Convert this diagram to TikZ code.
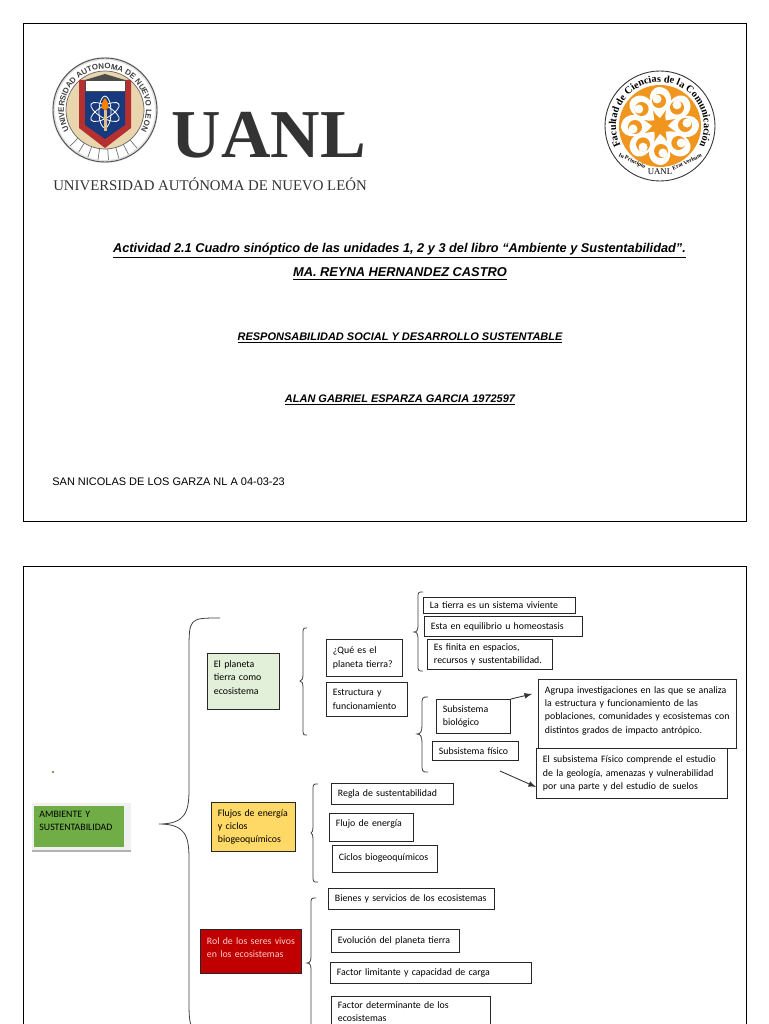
\documentclass[tikz,border=0pt]{standalone}
\usepackage{fontspec}
\setmainfont{Carlito}
\newfontfamily\arialf{Liberation Sans}
\newfontfamily\serif{Liberation Serif}
\usetikzlibrary{decorations.text}
\definecolor{uanlgray}{HTML}{333333}
\definecolor{sealred}{HTML}{B5302F}
\definecolor{sealblue}{HTML}{173A7E}
\definecolor{sealtan}{HTML}{E9D6AE}
\definecolor{factorange}{HTML}{F0961E}
\definecolor{lightgreen}{HTML}{E2EFD9}
\definecolor{midgreen}{HTML}{70AD47}
\definecolor{softyellow}{HTML}{FFD966}
\definecolor{darkred}{HTML}{C00000}
\newcommand{\brc}[7]{\draw[brc] (#3,-#4) .. controls (#1,-#4) .. (#1,-#4-#7) -- (#1,-#5+#7) .. controls (#1,-#5+#7/3) and (#1-#7/8,-#5) .. (#2,-#5) .. controls (#1-#7/8,-#5) and (#1,-#5-#7/3) .. (#1,-#5-#7) -- (#1,-#6+#7) .. controls (#1,-#6) .. (#3,-#6);}
\begin{document}
\begin{tikzpicture}[x=0.02cm,y=0.02cm]
  \tikzset{
    frm/.style={draw=black,line width=0.55pt},
    bx/.style={draw=black!85,line width=0.5pt,anchor=north west,align=left,inner ysep=1pt,font=\fontsize{5.6}{7.6}\selectfont},
    sz/.style 2 args={text width=(#1-13)*0.02cm,inner xsep=6.5*0.02cm,minimum height=#2*0.02cm},
    ttl/.style={font=\arialf\bfseries\itshape\fontsize{#1}{#1}\selectfont},
    brc/.style={draw=black!75,line width=0.45pt},
    arr/.style={draw=black!80,line width=0.5pt,-latex}
  }
  \useasboundingbox (0,-1024) rectangle (768,0);
  \clip (0,-1024) rectangle (768,0);
  \fill[white] (0,-1024) rectangle (768,0);
  \draw[frm] (23,-23) rectangle (746,-521);
  \draw[frm] (23,-566) rectangle (746,-1040);

  % escudo UANL
  \fill[gray!25] (105,-110) circle (53);
  \draw[black!70,line width=0.5pt] (105,-110) circle (52);
  \fill[white] (105,-110) circle (50);
  \fill[sealtan] (105,-110) circle (39);
  \draw[black!60,line width=0.4pt] (105,-110) circle (39);
  \foreach \a in {226,238,...,316} \draw[black!55,line width=0.4pt] (105,-110) ++(\a:39) -- ++(\a:11);
  \path[decorate,decoration={text along path,text align=center,
    text={|\arialf\bfseries\fontsize{4.5}{4.5}\selectfont\color{black!75}|UNIVERSIDAD AUTONOMA DE NUEVO LEON}}]
    (105,-110) ++(250:41) arc[start angle=250,end angle=-70,radius=41];
  \fill[sealred] (79,-80) -- (131,-80) -- (131,-128) -- (105,-148) -- (79,-128) -- cycle;
  \fill[sealblue] (85,-91) -- (125,-91) -- (125,-125) -- (105,-139) -- (85,-125) -- cycle;
  \fill[white] (85,-80) rectangle (125,-91);
  \draw[black!70,line width=0.4pt] (85,-80) rectangle (125,-91);
  \fill[black!70] (85,-80) -- (105,-74) -- (125,-80) -- cycle;
  \foreach \a in {30,90,150} \draw[white,line width=0.45pt,rotate around={\a:(105,-112)}] (105,-112) ellipse (16 and 6);
  \fill[sealtan!70!brown] (103.5,-110) rectangle (106.5,-131);
  \fill[orange] (105,-98) .. controls (110,-104) and (109,-110) .. (105,-110) .. controls (101,-110) and (100,-104) .. (105,-98);

  \node[font=\serif\bfseries\fontsize{39}{39}\selectfont,text=uanlgray,inner sep=0pt] (uanl) at (269,-135.5) {UANL};
  \node[font=\serif\fontsize{8.43}{8.43}\selectfont,text=uanlgray,inner sep=0pt] (univ) at (210,-184.5) {UNIVERSIDAD AUTÓNOMA DE NUEVO LEÓN};

  % escudo facultad
  \draw[black!80,line width=0.5pt] (660,-126) circle (55);
  \fill[factorange] (660,-126) circle (41);
  \foreach \a in {0,45,...,315} {
    \fill[white,shift={(660,-126)},rotate=\a] (8,0) .. controls (16,12) and (37,15) .. (39,1) .. controls (39,-10) and (26,-14) .. (20,-9) -- cycle;
    \fill[factorange,shift={(660,-126)},rotate=\a] (25,1) circle (7);
    \fill[white,shift={(660,-126)},rotate=\a] (27,3) circle (4.5);
  }
  \path[decorate,decoration={text along path,text align=center,
    text={|\serif\bfseries\fontsize{5.8}{5.8}\selectfont|Facultad de Ciencias de la Comunicación}}]
    (660,-126) ++(225:44) arc[start angle=225,end angle=-45,radius=44];
  \node[font=\serif\bfseries\fontsize{3.2}{3.2}\selectfont,inner sep=0pt,rotate=-25] (inpr) at (632,-161) {In Principio};
  \node[font=\serif\bfseries\fontsize{3.2}{3.2}\selectfont,inner sep=0pt,rotate=25] (erat) at (687,-162) {Erat Verbum};
  \node[font=\serif\fontsize{5}{5}\selectfont,inner sep=0pt] (fuanl) at (660,-172) {UANL};

  % portada
  \node[ttl=7.26,inner sep=0pt] (act) at (399.5,-251) {\underline{Actividad 2.1 Cuadro sinóptico de las unidades 1, 2 y 3 del libro “Ambiente y Sustentabilidad”.}};
  \node[ttl=7.3,inner sep=0pt] (ma) at (400,-274) {\underline{MA. REYNA HERNANDEZ CASTRO}};
  \node[ttl=6.26,inner sep=0pt] (resp) at (400,-338) {\underline{RESPONSABILIDAD SOCIAL Y DESARROLLO SUSTENTABLE}};
  \node[ttl=6.26,inner sep=0pt] (alan) at (400,-400) {\underline{ALAN GABRIEL ESPARZA GARCIA 1972597}};
  \node[font=\arialf\fontsize{6.25}{6.25}\selectfont,anchor=west,inner sep=0pt] (san) at (52,-482) {SAN NICOLAS DE LOS GARZA NL A 04-03-23};

  % cuadro
  \fill[midgreen!70!black] (53,-772) circle (1.2);
  \fill[black!30] (32,-805) rectangle (131,-852);
  \fill[black!6] (32,-803) rectangle (131,-850);
  \node[bx,sz={93}{41},draw=none,fill=midgreen,inner xsep=5*0.02cm] (amb) at (34,-806) {AMBIENTE Y\\SUSTENTABILIDAD\\[-1pt]~};
  \brc{189}{159}{220}{618}{824}{1032}{34}

  \node[bx,sz={72}{56},fill=lightgreen] (plan) at (207,-653) {El planeta\\tierra como\\ecosistema\\[-3pt]~};
  \node[bx,sz={84}{49},fill=softyellow] (flu) at (211,-802) {Flujos de energía\\y ciclos\\biogeoquímicos};
  \node[bx,sz={101}{44},fill=darkred,text=red!20] (rol) at (200,-929) {Rol de los seres vivos\\en los ecosistemas\\[-3pt]~};

  \brc{303}{300}{307}{628}{681}{735}{7}
  \node[bx,sz={76}{37}] (que) at (326,-639) {¿Qué es el\\planeta tierra?};
  \node[bx,sz={81}{34}] (est) at (326,-682) {Estructura y\\funcionamiento};

  \brc{418}{414}{423}{592}{632}{671}{7}
  \node[bx,sz={152}{16}] (viv) at (423,-597) {La tierra es un sistema viviente};
  \node[bx,sz={158}{20}] (equ) at (424,-616) {Esta en equilibrio u homeostasis};
  \node[bx,sz={125}{30}] (fin) at (427,-639) {Es finita en espacios,\\recursos y sustentabilidad.};

  \brc{422}{417}{428}{697}{734}{772}{9}
  \node[bx,sz={74}{34}] (bio) at (436,-699) {Subsistema\\biológico};
  \node[bx,sz={86}{19}] (fis) at (432,-741) {Subsistema físico};
  \node[bx,sz={198}{69}] (agr) at (538,-679) {Agrupa investigaciones en las que se analiza\\la estructura y funcionamiento de las\\poblaciones, comunidades y ecosistemas con\\distintos grados de impacto antrópico.\\[-3pt]~};
  \node[bx,sz={191}{50}] (efi) at (536,-748) {El subsistema Físico comprende el estudio\\de la geología, amenazas y vulnerabilidad\\por una parte y del estudio de suelos};
  \coordinate (p1) at (532,-694);
  \coordinate (p2) at (500,-771);
  \coordinate (p3) at (536,-787);
  \draw[arr] (bio.north east) -- (p1);
  \draw[arr] (p2) -- (p3);

  \brc{313}{311}{318}{784}{833}{882}{7}
  \node[bx,sz={122}{21}] (reg) at (331,-783) {Regla de sustentabilidad};
  \node[bx,sz={84}{28}] (fen) at (329,-813) {Flujo de energía\\[-3pt]~};
  \node[bx,sz={105}{27}] (cic) at (332,-845) {Ciclos biogeoquímicos\\[-5pt]~};

  \brc{311}{307}{316}{898}{963}{1032}{7}
  \node[bx,sz={166}{21}] (bie) at (328,-888) {Bienes y servicios de los ecosistemas};
  \node[bx,sz={128}{23}] (evo) at (331,-929) {Evolución del planeta tierra};
  \node[bx,sz={201}{21}] (lim) at (330,-962) {Factor limitante y capacidad de carga};
  \node[bx,sz={159}{38}] (det) at (331,-996) {Factor determinante de los\\ecosistemas\\[-3pt]~};
\end{tikzpicture}
\end{document}
